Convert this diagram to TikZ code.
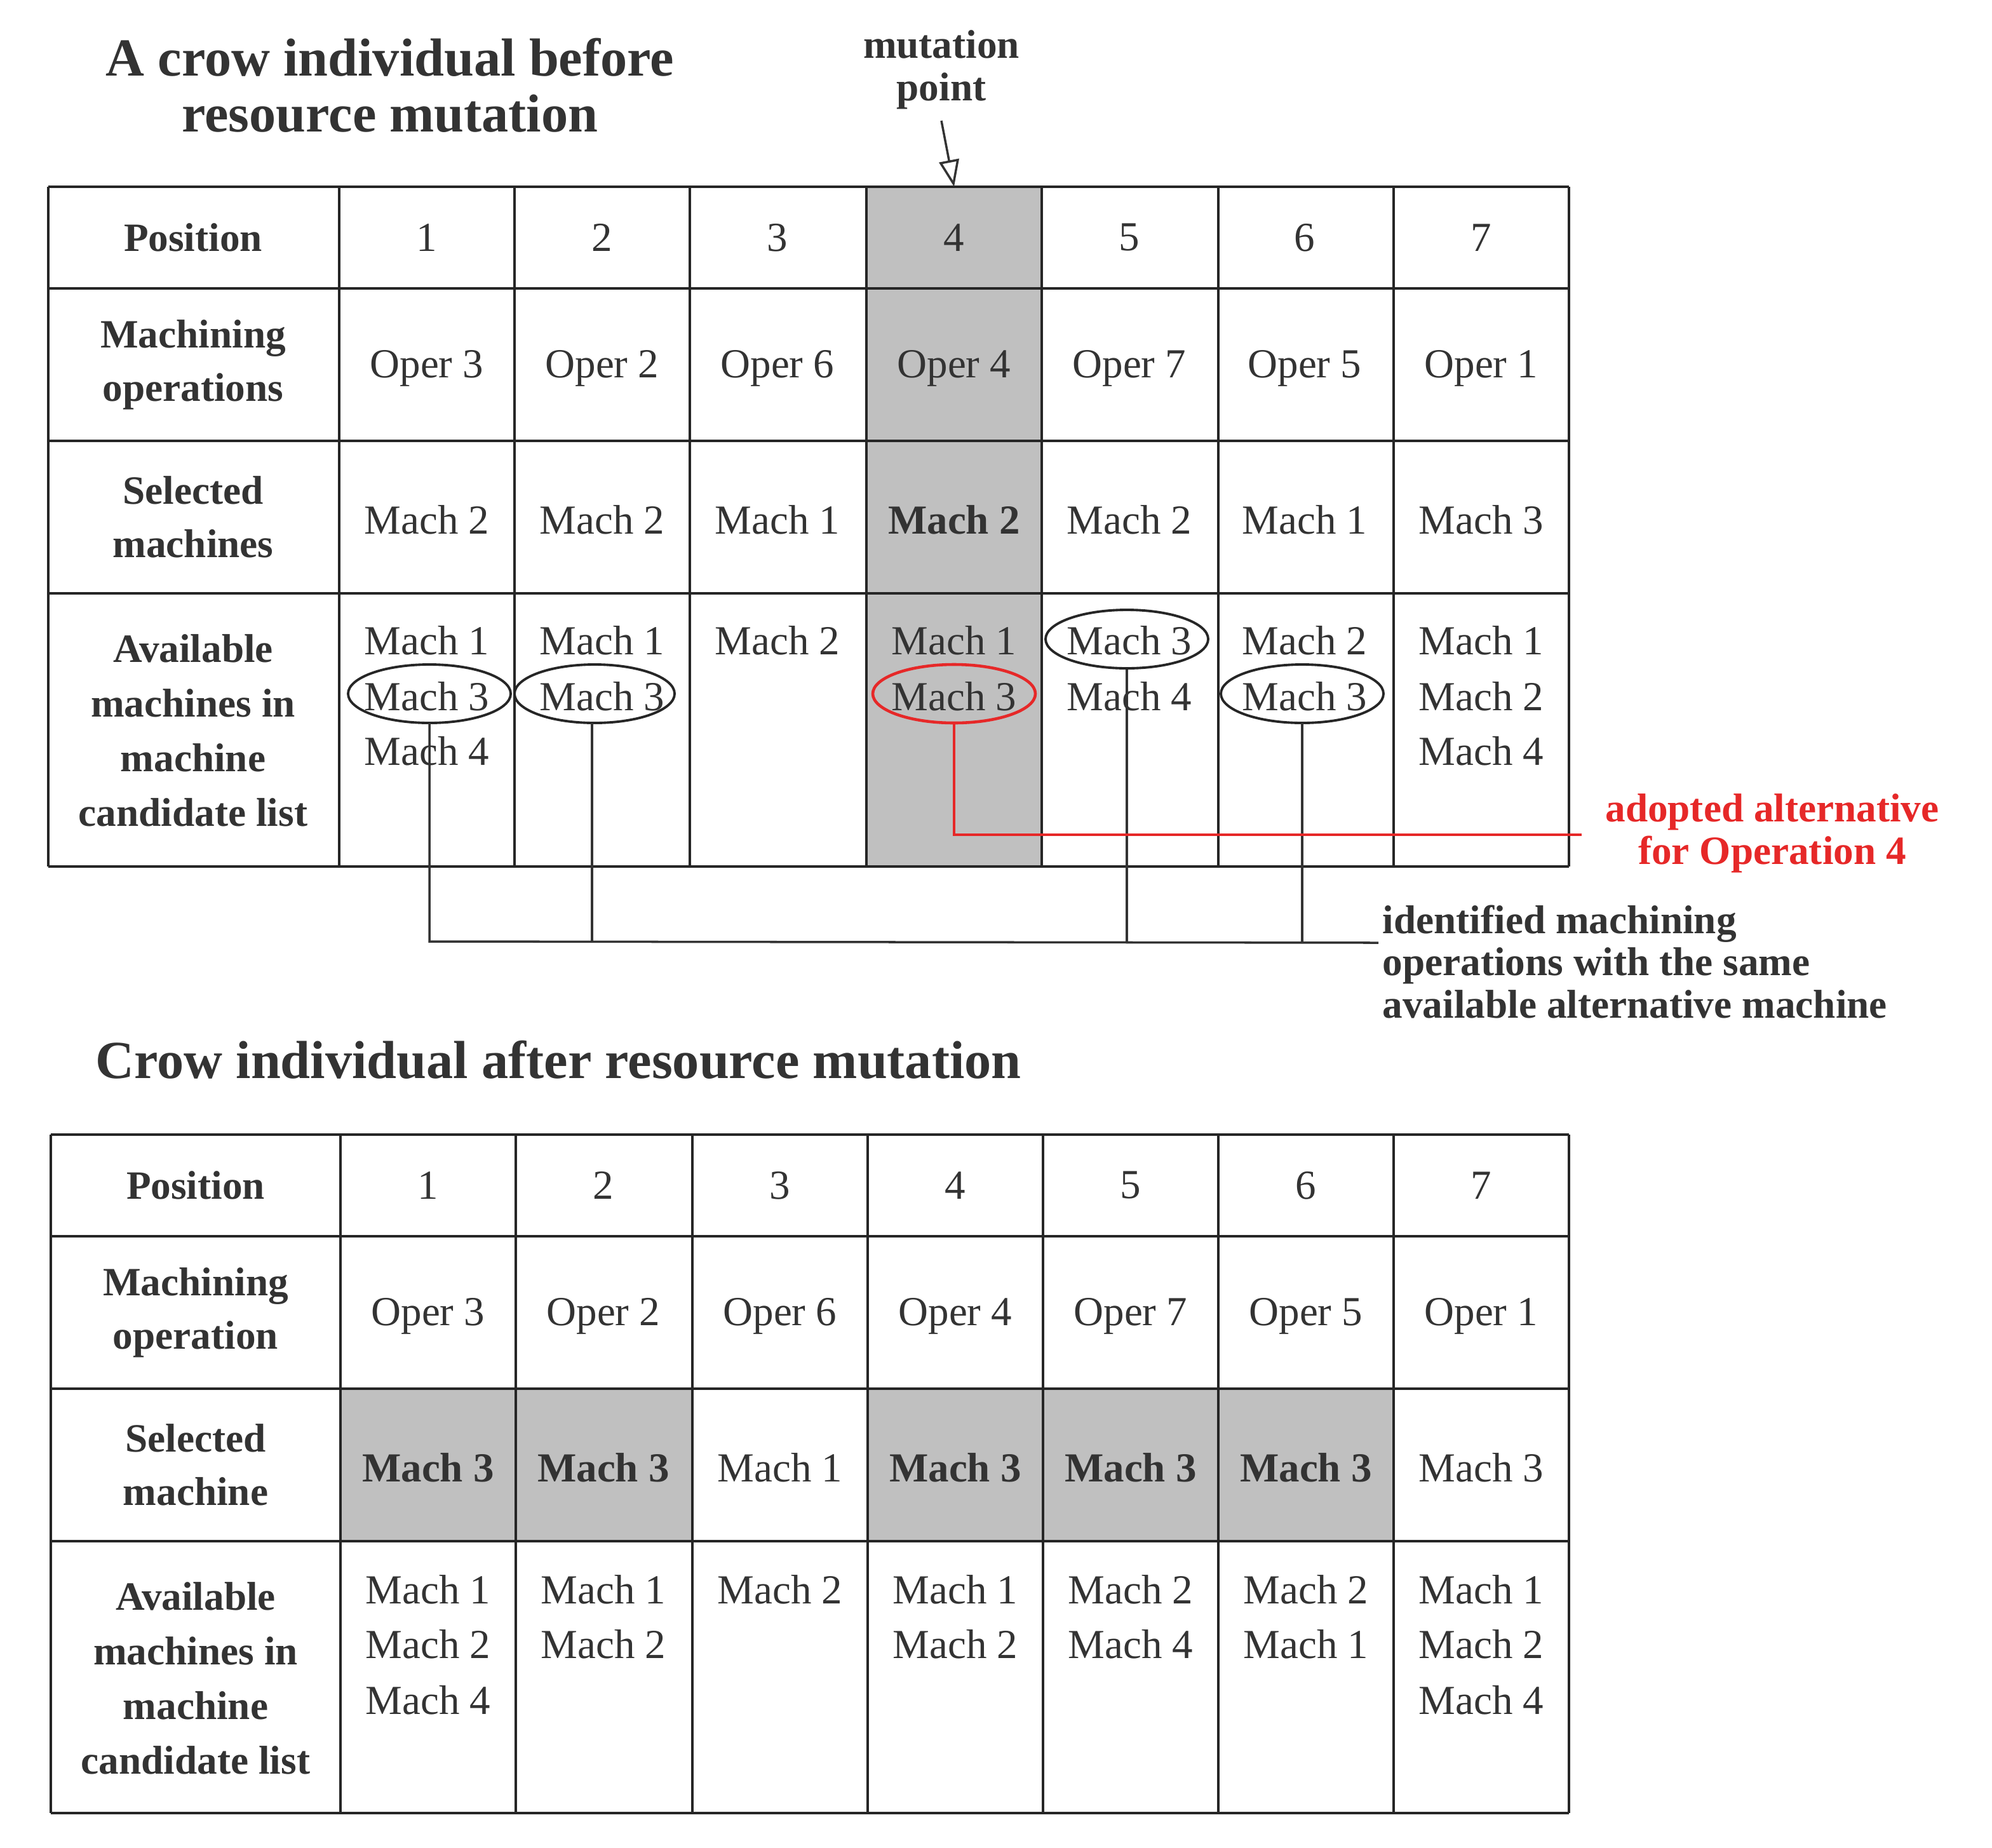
\documentclass[tikz,border=0pt]{standalone}
\usepackage{fontspec}
\setmainfont{Liberation Serif}
\usetikzlibrary{arrows.meta}
\definecolor{cellgray}{RGB}{192,192,192}
\definecolor{myred}{RGB}{230,40,40}
\begin{document}
\begin{tikzpicture}[x=0.02cm,y=-0.02cm,
  grid/.style={draw=black!85,line width=1.2pt},
  txt/.style={font=\fontsize{18.5}{24}\selectfont,text=black!80,inner sep=0pt},
  hdr/.style={font=\fontsize{18}{24}\selectfont\bfseries,text=black!80,align=center,inner sep=0pt},
  title/.style={font=\fontsize{24}{25}\selectfont\bfseries,text=black!80,inner sep=0pt},
  conn/.style={draw=black!80,line width=1pt},
  oval/.style={draw=black!85,line width=1.1pt}]
\useasboundingbox (0,0) rectangle (1568,1454);
% ---------- table 1 ----------
\fill[cellgray] (682,147) rectangle (820,682);
\foreach \x in {38,267,405,543,682,820,959,1097,1235} \draw[grid] (\x,147) -- (\x,682);
\foreach \y in {147,227,347,467,682} \draw[grid] (38,\y) -- (1235,\y);
\node[hdr] at (152,187) {Position};
\node[hdr] at (152,287) {Machining\\operations};
\node[hdr] at (152,407) {Selected\\machines};
\node[hdr,font=\fontsize{18}{24.5}\selectfont\bfseries] at (152,575) {Available\\machines in\\machine\\candidate list};
\foreach \i/\x in {1/336,2/474,3/612,4/751,5/889,6/1027,7/1166}{
  \node[txt] (p\i) at (\x,187) {\i};}
\foreach \i/\x/\o in {1/336/3,2/474/2,3/612/6,4/751/4,5/889/7,6/1027/5,7/1166/1}{
  \node[txt] (o\i) at (\x,290) {Oper \o};}
\foreach \i/\x/\m in {1/336/2,2/474/2,3/612/1,5/889/2,6/1027/1,7/1166/3}{
  \node[txt] (s\i) at (\x,409) {Mach \m};}
\node[txt,font=\fontsize{18.5}{24}\selectfont\bfseries] (s4) at (751,409) {Mach 2};
\node[txt] at (336,504) {Mach 1};\node[txt] at (336,548) {Mach 3};\node[txt] at (336,591) {Mach 4};
\node[txt] at (474,504) {Mach 1};\node[txt] at (474,548) {Mach 3};
\node[txt] at (612,504) {Mach 2};
\node[txt] at (751,504) {Mach 1};\node[txt] at (751,548) {Mach 3};
\node[txt] at (889,504) {Mach 3};\node[txt] at (889,548) {Mach 4};
\node[txt] at (1027,504) {Mach 2};\node[txt] at (1027,548) {Mach 3};
\node[txt] at (1166,504) {Mach 1};\node[txt] at (1166,548) {Mach 2};\node[txt] at (1166,591) {Mach 4};
% ellipses
\draw[oval] (338,546) ellipse (64 and 23);
\draw[oval] (468,546) ellipse (63 and 23);
\draw[oval] (887,503) ellipse (64 and 23);
\draw[oval] (1025,546) ellipse (64 and 23);
\draw[draw=myred,line width=1.3pt] (751,546) ellipse (64 and 23);
% connectors
\coordinate (jend) at (1085,742);
\draw[conn] (338,569) -- (338,741) -- (jend);
\draw[conn] (466,569) -- (466,741);
\draw[conn] (887,527) -- (887,742);
\draw[conn] (1025,569) -- (1025,742);
\draw[draw=myred,line width=1.1pt] (751,569) -- (751,657) -- (1245,657);
% labels
\node[title,align=center] at (307,67) {A crow individual before\\resource mutation};
\node[hdr,font=\fontsize{18}{19}\selectfont\bfseries] (mp) at (741,55) {mutation\\point};
\draw[conn,-{Triangle[open,length=12pt,width=9pt]}] (741,95) -- (p4.north |- 0,147);
\node[hdr,text=myred,font=\fontsize{18}{19}\selectfont\bfseries] at (1395,656) {adopted alternative\\for Operation 4};
\node[hdr,align=left,anchor=west,font=\fontsize{18}{19}\selectfont\bfseries] at (1088,757) {identified machining\\operations with the same\\available alternative machine};
% ---------- table 2 ----------
\node[title,anchor=west] at (75,834) {Crow individual after resource mutation};
\foreach \a/\b in {268/406,406/545,683/821,821/959,959/1097} \fill[cellgray] (\a,1093) rectangle (\b,1213);
\foreach \x in {40,268,406,545,683,821,959,1097,1235} \draw[grid] (\x,893) -- (\x,1427);
\foreach \y in {893,973,1093,1213,1427} \draw[grid] (40,\y) -- (1235,\y);
\node[hdr] at (154,933) {Position};
\node[hdr] at (154,1033) {Machining\\operation};
\node[hdr] at (154,1153) {Selected\\machine};
\node[hdr,font=\fontsize{18}{24.5}\selectfont\bfseries] at (154,1321) {Available\\machines in\\machine\\candidate list};
\foreach \i/\x in {1/337,2/475,3/614,4/752,5/890,6/1028,7/1166}{
  \node[txt] (q\i) at (\x,933) {\i};}
\foreach \i/\x/\o in {1/337/3,2/475/2,3/614/6,4/752/4,5/890/7,6/1028/5,7/1166/1}{
  \node[txt] (r\i) at (\x,1036) {Oper \o};}
\foreach \i/\x in {1/337,2/475,4/752,5/890,6/1028}{
  \node[txt,font=\fontsize{18.5}{24}\selectfont\bfseries] (t\i) at (\x,1155) {Mach 3};}
\node[txt] (t3) at (614,1155) {Mach 1};
\node[txt] (t7) at (1166,1155) {Mach 3};
\node[txt] at (337,1251) {Mach 1};\node[txt] at (337,1294) {Mach 2};\node[txt] at (337,1338) {Mach 4};
\node[txt] at (475,1251) {Mach 1};\node[txt] at (475,1294) {Mach 2};
\node[txt] at (614,1251) {Mach 2};
\node[txt] at (752,1251) {Mach 1};\node[txt] at (752,1294) {Mach 2};
\node[txt] at (890,1251) {Mach 2};\node[txt] at (890,1294) {Mach 4};
\node[txt] at (1028,1251) {Mach 2};\node[txt] at (1028,1294) {Mach 1};
\node[txt] at (1166,1251) {Mach 1};\node[txt] at (1166,1294) {Mach 2};\node[txt] at (1166,1338) {Mach 4};
\end{tikzpicture}
\end{document}
